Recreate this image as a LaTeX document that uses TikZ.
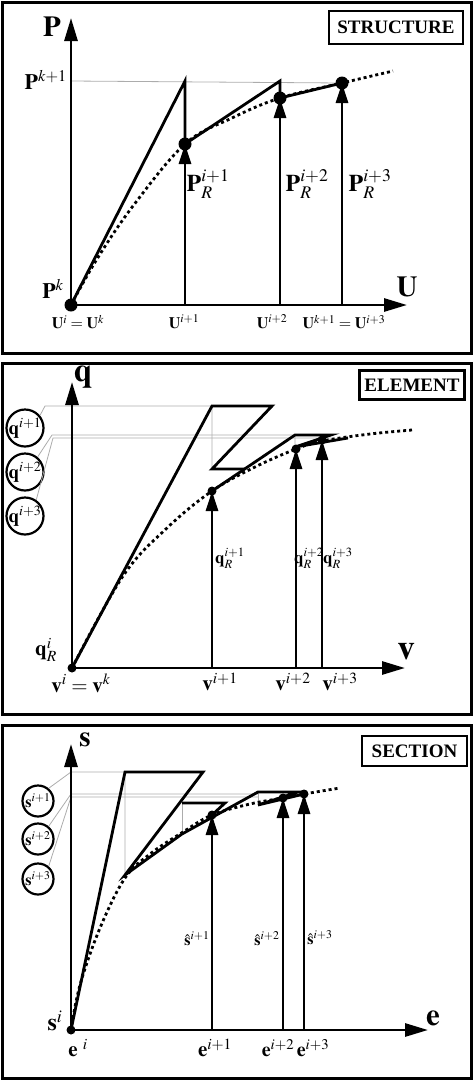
\documentclass[tikz,border=0pt]{standalone}
\usepackage{amsmath}
\usepackage{mathptmx}
\usepackage{fontspec}
\setmainfont{Liberation Serif}
\usetikzlibrary{arrows.meta}
\newcommand{\setfs}[1]{\fontsize{#1}{#1}\selectfont}

\begin{document}
\begin{tikzpicture}[x=1pt,y=-1pt,
        frame/.style={line width=3pt},
        curve/.style={line width=2.8pt,line join=miter},
        guide/.style={gray!65,line width=0.8pt},
        trial/.style={line width=2.8pt,dash pattern=on 3pt off 3pt},
        axis/.style={line width=2.8pt,-{Triangle[length=23pt,width=13pt]}},
        force/.style={line width=2.8pt,-{Triangle[length=20pt,width=12pt]}},
        tag/.style={draw,line width=2.4pt,font=\bfseries\setfs{19},inner sep=0pt},
        ring/.style={circle,draw,line width=2.2pt,inner sep=0pt}]
        \useasboundingbox (0,0) rectangle (474,1080);

        % structure
        \draw[frame] (2,2) rectangle (471,353);
        \coordinate (o1) at (71,305);
        \coordinate (ptop) at (71,18);
        \coordinate (uend) at (407,305);
        \coordinate (pk1) at (71,81);
        \coordinate (t11) at (185,81);
        \coordinate (t12) at (280,81);
        \coordinate (r11) at (185,144);
        \coordinate (r12) at (280,98);
        \coordinate (r13) at (342,83);
        \coordinate (f11) at (185,305);
        \coordinate (f12) at (280,305);
        \coordinate (f13) at (342,305);
        \draw[guide] (pk1) -- (r13);
        \draw[trial] plot[smooth,tension=0.6] coordinates {(71,305) (97,259) (133,206) (185,144) (232,118) (280,98) (342,83) (393,71)};
        \draw[curve] (o1) -- (t11) -- (r11) -- (t12) -- (r12) -- (r13);
        \draw[force] (f11) -- (r11);
        \draw[force] (f12) -- (r12);
        \draw[force] (f13) -- (r13);
        \draw[axis] (o1) -- (ptop);
        \draw[axis] (o1) -- (uend);
        \fill (o1) circle (6.5);
        \fill (r11) circle (6.5);
        \fill (r12) circle (6.5);
        \fill (r13) circle (6.5);
        \node[font=\setfs{29}] (labP) at (52,27) {$\mathbf{P}$};
        \node[font=\setfs{29}] (labU) at (407,287) {$\mathbf{U}$};
        \node[tag,minimum width=134pt,minimum height=33pt] (structure) at (396,27.5) {STRUCTURE};
        \node[font=\setfs{22},anchor=east,inner sep=1pt] (lpk1) at (68,80) {$\mathbf{P}^{k+1}$};
        \node[font=\setfs{22}] (lpk) at (53,289) {$\mathbf{P}^{k}$};
        \node[font=\setfs{24}] (lpr1) at (208,184) {$\mathbf{P}_R^{i+1}$};
        \node[font=\setfs{24}] (lpr2) at (307,184) {$\mathbf{P}_R^{i+2}$};
        \node[font=\setfs{24}] (lpr3) at (370,184) {$\mathbf{P}_R^{i+3}$};
        \node[font=\setfs{16}] (lu0) at (78,322) {$\mathbf{U}^{i}=\mathbf{U}^{k}$};
        \node[font=\setfs{16}] (lu1) at (184,322) {$\mathbf{U}^{i+1}$};
        \node[font=\setfs{16}] (lu2) at (272,322) {$\mathbf{U}^{i+2}$};
        \node[font=\setfs{16}] (lu3) at (344,322) {$\mathbf{U}^{k+1}=\mathbf{U}^{i+3}$};

        % element
        \draw[frame] (2,363) rectangle (471,714);
        \coordinate (o2) at (72,668);
        \coordinate (qtop) at (72,382);
        \coordinate (vend) at (405,668);
        \coordinate (t21) at (212,406);
        \coordinate (b21) at (212,469);
        \coordinate (t22) at (295,435);
        \coordinate (b22) at (295,447);
        \coordinate (r21) at (212,491);
        \coordinate (r22) at (296,449);
        \coordinate (r23) at (322,440);
        \coordinate (f21) at (212,668);
        \coordinate (f22) at (296,668);
        \coordinate (f23) at (322,668);
        \node[ring,minimum size=37pt,label={[font=\setfs{19}]center:$\mathbf{q}^{i+1}$}] (qa) at (25,428) {};
        \node[ring,minimum size=37pt,label={[font=\setfs{19}]center:$\mathbf{q}^{i+2}$}] (qb) at (25,472) {};
        \node[ring,minimum size=37pt,label={[font=\setfs{19}]center:$\mathbf{q}^{i+3}$}] (qc) at (25,516) {};
        \draw[guide] (qa.40) -- (45,406) -- (t21) -- (b21);
        \draw[guide] (qb.50) -- (52,435) -- (t22) -- (b22);
        \draw[guide] (qc.55) -- (53,438) -- (331,438);
        \draw[trial] plot[smooth,tension=0.6] coordinates {(72,668) (123,576) (167,528) (212,491) (255,467) (296,449) (322,441) (370,434) (412,430)};
        \draw[curve] (o2) -- (t21) -- (272,406) -- (b21) -- (245,469);
        \draw[curve] (r21) -- (t22) -- (331,435) -- (b22) -- (348,438);
        \draw[force] (f21) -- (r21);
        \draw[force] (f22) -- (r22);
        \draw[force] (f23) -- (r23);
        \draw[axis] (o2) -- (qtop);
        \draw[axis] (o2) -- (vend);
        \fill (o2) circle (4.5);
        \fill (r21) circle (4.5);
        \fill (r22) circle (4.5);
        \fill (r23) circle (4.5);
        \node[font=\setfs{33}] (labq) at (83,377) {$\mathbf{q}$};
        \node[font=\setfs{35}] (labv) at (406,652) {$\mathbf{v}$};
        \node[tag,minimum width=105pt,minimum height=29pt] (element) at (412,385) {ELEMENT};
        \node[font=\setfs{17}] (lqr1) at (230,558) {$\mathbf{q}_R^{i+1}$};
        \node[font=\setfs{17}] (lqr2) at (309,558) {$\mathbf{q}_R^{i+2}$};
        \node[font=\setfs{17}] (lqr3) at (338,558) {$\mathbf{q}_R^{i+3}$};
        \node[font=\setfs{21},inner sep=1pt] (lqr0) at (46,650) {$\mathbf{q}_R^{i}$};
        \node[font=\setfs{21},inner sep=1pt] (lv0) at (81,683) {$\mathbf{v}^{i}=\mathbf{v}^{k}$};
        \node[font=\setfs{21}] (lv1) at (220,682) {$\mathbf{v}^{i+1}$};
        \node[font=\setfs{21}] (lv2) at (293,682) {$\mathbf{v}^{i+2}$};
        \node[font=\setfs{21}] (lv3) at (340,682) {$\mathbf{v}^{i+3}$};

        % section
        \draw[frame] (2,725) rectangle (471,1078);
        \coordinate (o3) at (71,1030);
        \coordinate (stop) at (71,744);
        \coordinate (eend) at (428,1030);
        \coordinate (t31) at (125,772);
        \coordinate (b31) at (125,875);
        \coordinate (t32) at (182,803);
        \coordinate (b32) at (182,834);
        \coordinate (t33) at (258,792);
        \coordinate (b33) at (258,805);
        \coordinate (r31) at (212,815);
        \coordinate (r32) at (283,798);
        \coordinate (r33) at (304,794);
        \coordinate (f31) at (212,1030);
        \coordinate (f32) at (283,1030);
        \coordinate (f33) at (304,1030);
        \node[ring,minimum size=31pt,label={[font=\setfs{16}]center:$\mathbf{s}^{i+1}$}] (sa) at (38,801) {};
        \node[ring,minimum size=31pt,label={[font=\setfs{16}]center:$\mathbf{s}^{i+2}$}] (sb) at (38,839) {};
        \node[ring,minimum size=31pt,label={[font=\setfs{16}]center:$\mathbf{s}^{i+3}$}] (sc) at (38,879) {};
        \draw[guide] (sa.50) -- (71,772) -- (t31) -- (b31);
        \draw[guide] (sb.50) -- (71,794) -- (258,794);
        \draw[guide] (sc.50) -- (71,797) -- (258,797);
        \draw[guide] (t32) -- (b32);
        \draw[guide] (t33) -- (b33);
        \draw[trial] plot[smooth,tension=0.6] coordinates {(71,1030) (80,985) (100,928) (125,878) (150,854) (183,832) (212,815) (250,804) (283,798) (304,794) (340,788)};
        \draw[curve] (o3) -- (t31) -- (203,772) -- (b31) -- (b32) -- (t33) -- (298,792) -- (b33) -- (r33);
        \draw[curve] (t32) -- (225,803) -- (r31);
        \draw[force] (f31) -- (r31);
        \draw[force] (f32) -- (r32);
        \draw[force] (f33) -- (r33);
        \draw[axis] (o3) -- (stop);
        \draw[axis] (o3) -- (eend);
        \fill (o3) circle (4.5);
        \fill (r31) circle (4.5);
        \fill (r32) circle (4.5);
        \fill (r33) circle (4.5);
        \node[font=\setfs{29}] (labs) at (85,740) {$\mathbf{s}$};
        \node[font=\setfs{31}] (labe) at (433,1018) {$\mathbf{e}$};
        \node[tag,minimum width=105pt,minimum height=30pt] (section) at (414.5,751) {SECTION};
        \node[font=\setfs{16}] (lsh1) at (197,939) {$\hat{\mathbf{s}}^{i+1}$};
        \node[font=\setfs{16}] (lsh2) at (267,939) {$\hat{\mathbf{s}}^{i+2}$};
        \node[font=\setfs{16}] (lsh3) at (320,938) {$\hat{\mathbf{s}}^{i+3}$};
        \node[font=\setfs{24}] (ls0) at (55,1021) {$\mathbf{s}^{i}$};
        \node[font=\setfs{21}] (le0) at (78,1048) {$\mathbf{e}^{\;\,i}$};
        \node[font=\setfs{21}] (le1) at (215,1048) {$\mathbf{e}^{i+1}$};
        \node[font=\setfs{20},inner sep=1pt] (le2) at (278,1048) {$\mathbf{e}^{i+2}$};
        \node[font=\setfs{20},inner sep=1pt] (le3) at (313,1048) {$\mathbf{e}^{i+3}$};
    \end{tikzpicture}
\end{document}
